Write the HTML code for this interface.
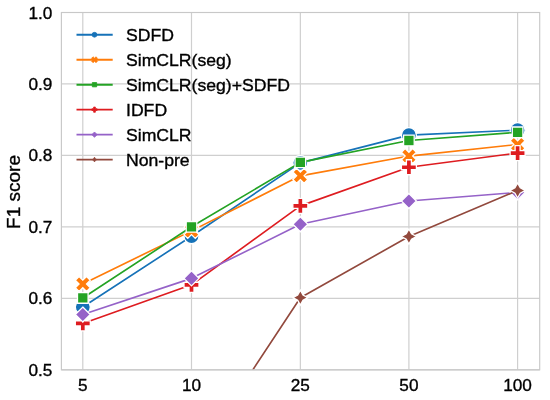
<!DOCTYPE html><html><head><meta charset="utf-8"><title>F1 score</title><style>html,body{margin:0;padding:0;background:#fff}svg{display:block}</style></head><body><svg width="550" height="400" viewBox="0 0 550 400" font-family="&quot;Liberation Sans&quot;, sans-serif" font-size="17.2" fill="#000" stroke="#000" stroke-width="0.35">
<rect width="550" height="400" fill="#fff" stroke="none"/>
<g stroke="#cfcfcf" stroke-width="1.2"><line x1="82.8" y1="12.5" x2="82.8" y2="369.8"/><line x1="191.5" y1="12.5" x2="191.5" y2="369.8"/><line x1="300.35" y1="12.5" x2="300.35" y2="369.8"/><line x1="408.9" y1="12.5" x2="408.9" y2="369.8"/><line x1="517.6" y1="12.5" x2="517.6" y2="369.8"/><line x1="61.4" y1="369.80" x2="539.7" y2="369.80"/><line x1="61.4" y1="298.34" x2="539.7" y2="298.34"/><line x1="61.4" y1="226.88" x2="539.7" y2="226.88"/><line x1="61.4" y1="155.42" x2="539.7" y2="155.42"/><line x1="61.4" y1="83.96" x2="539.7" y2="83.96"/><line x1="61.4" y1="12.50" x2="539.7" y2="12.50"/></g>
<defs><clipPath id="c"><rect x="61.4" y="12.5" width="478.30000000000007" height="357.3"/></clipPath></defs>
<g clip-path="url(#c)">
<polyline points="82.80,306.99 191.50,236.25 300.35,162.86 408.90,135.15 517.60,130.14" fill="none" stroke="#1672b8" stroke-width="1.65" stroke-linejoin="round" stroke-linecap="round"/>
<circle cx="82.80" cy="306.99" r="7.50" fill="#1672b8" stroke="#fff" stroke-width="1.3" stroke-linejoin="miter"/>
<circle cx="191.50" cy="236.25" r="7.50" fill="#1672b8" stroke="#fff" stroke-width="1.3" stroke-linejoin="miter"/>
<circle cx="300.35" cy="162.86" r="7.50" fill="#1672b8" stroke="#fff" stroke-width="1.3" stroke-linejoin="miter"/>
<circle cx="408.90" cy="135.15" r="7.50" fill="#1672b8" stroke="#fff" stroke-width="1.3" stroke-linejoin="miter"/>
<circle cx="517.60" cy="130.14" r="7.50" fill="#1672b8" stroke="#fff" stroke-width="1.3" stroke-linejoin="miter"/>
<polyline points="82.80,283.94 191.50,230.88 300.35,175.82 408.90,156.06 517.60,144.46" fill="none" stroke="#ff7c0a" stroke-width="1.65" stroke-linejoin="round" stroke-linecap="round"/>
<polygon points="79.05,276.44 82.80,280.19 86.55,276.44 90.30,280.19 86.55,283.94 90.30,287.69 86.55,291.44 82.80,287.69 79.05,291.44 75.30,287.69 79.05,283.94 75.30,280.19" fill="#ff7c0a" stroke="#fff" stroke-width="1.3" stroke-linejoin="miter"/>
<polygon points="187.75,223.38 191.50,227.13 195.25,223.38 199.00,227.13 195.25,230.88 199.00,234.63 195.25,238.38 191.50,234.63 187.75,238.38 184.00,234.63 187.75,230.88 184.00,227.13" fill="#ff7c0a" stroke="#fff" stroke-width="1.3" stroke-linejoin="miter"/>
<polygon points="296.60,168.32 300.35,172.07 304.10,168.32 307.85,172.07 304.10,175.82 307.85,179.57 304.10,183.32 300.35,179.57 296.60,183.32 292.85,179.57 296.60,175.82 292.85,172.07" fill="#ff7c0a" stroke="#fff" stroke-width="1.3" stroke-linejoin="miter"/>
<polygon points="405.15,148.56 408.90,152.31 412.65,148.56 416.40,152.31 412.65,156.06 416.40,159.81 412.65,163.56 408.90,159.81 405.15,163.56 401.40,159.81 405.15,156.06 401.40,152.31" fill="#ff7c0a" stroke="#fff" stroke-width="1.3" stroke-linejoin="miter"/>
<polygon points="513.85,136.96 517.60,140.71 521.35,136.96 525.10,140.71 521.35,144.46 525.10,148.21 521.35,151.96 517.60,148.21 513.85,151.96 510.10,148.21 513.85,144.46 510.10,140.71" fill="#ff7c0a" stroke="#fff" stroke-width="1.3" stroke-linejoin="miter"/>
<polyline points="82.80,297.97 191.50,226.80 300.35,162.36 408.90,140.52 517.60,132.29" fill="none" stroke="#24a324" stroke-width="1.65" stroke-linejoin="round" stroke-linecap="round"/>
<polygon points="77.50,292.67 88.10,292.67 88.10,303.27 77.50,303.27" fill="#24a324" stroke="#fff" stroke-width="1.3" stroke-linejoin="miter"/>
<polygon points="186.20,221.50 196.80,221.50 196.80,232.10 186.20,232.10" fill="#24a324" stroke="#fff" stroke-width="1.3" stroke-linejoin="miter"/>
<polygon points="295.05,157.06 305.65,157.06 305.65,167.66 295.05,167.66" fill="#24a324" stroke="#fff" stroke-width="1.3" stroke-linejoin="miter"/>
<polygon points="403.60,135.22 414.20,135.22 414.20,145.83 403.60,145.83" fill="#24a324" stroke="#fff" stroke-width="1.3" stroke-linejoin="miter"/>
<polygon points="512.30,126.98 522.90,126.98 522.90,137.59 512.30,137.59" fill="#24a324" stroke="#fff" stroke-width="1.3" stroke-linejoin="miter"/>
<polyline points="82.80,323.46 191.50,284.80 300.35,205.89 408.90,167.23 517.60,153.05" fill="none" stroke="#de1c20" stroke-width="1.65" stroke-linejoin="round" stroke-linecap="round"/>
<polygon points="80.30,315.96 85.30,315.96 85.30,320.96 90.30,320.96 90.30,325.96 85.30,325.96 85.30,330.96 80.30,330.96 80.30,325.96 75.30,325.96 75.30,320.96 80.30,320.96" fill="#de1c20" stroke="#fff" stroke-width="1.3" stroke-linejoin="miter"/>
<polygon points="189.00,277.30 194.00,277.30 194.00,282.30 199.00,282.30 199.00,287.30 194.00,287.30 194.00,292.30 189.00,292.30 189.00,287.30 184.00,287.30 184.00,282.30 189.00,282.30" fill="#de1c20" stroke="#fff" stroke-width="1.3" stroke-linejoin="miter"/>
<polygon points="297.85,198.39 302.85,198.39 302.85,203.39 307.85,203.39 307.85,208.39 302.85,208.39 302.85,213.39 297.85,213.39 297.85,208.39 292.85,208.39 292.85,203.39 297.85,203.39" fill="#de1c20" stroke="#fff" stroke-width="1.3" stroke-linejoin="miter"/>
<polygon points="406.40,159.73 411.40,159.73 411.40,164.73 416.40,164.73 416.40,169.73 411.40,169.73 411.40,174.73 406.40,174.73 406.40,169.73 401.40,169.73 401.40,164.73 406.40,164.73" fill="#de1c20" stroke="#fff" stroke-width="1.3" stroke-linejoin="miter"/>
<polygon points="515.10,145.55 520.10,145.55 520.10,150.55 525.10,150.55 525.10,155.55 520.10,155.55 520.10,160.55 515.10,160.55 515.10,155.55 510.10,155.55 510.10,150.55 515.10,150.55" fill="#de1c20" stroke="#fff" stroke-width="1.3" stroke-linejoin="miter"/>
<polyline points="82.80,314.58 191.50,278.35 300.35,224.29 408.90,201.02 517.60,192.43" fill="none" stroke="#9562c8" stroke-width="1.65" stroke-linejoin="round" stroke-linecap="round"/>
<polygon points="82.80,307.08 90.30,314.58 82.80,322.08 75.30,314.58" fill="#9562c8" stroke="#fff" stroke-width="1.3" stroke-linejoin="miter"/>
<polygon points="191.50,270.85 199.00,278.35 191.50,285.85 184.00,278.35" fill="#9562c8" stroke="#fff" stroke-width="1.3" stroke-linejoin="miter"/>
<polygon points="300.35,216.79 307.85,224.29 300.35,231.79 292.85,224.29" fill="#9562c8" stroke="#fff" stroke-width="1.3" stroke-linejoin="miter"/>
<polygon points="408.90,193.52 416.40,201.02 408.90,208.52 401.40,201.02" fill="#9562c8" stroke="#fff" stroke-width="1.3" stroke-linejoin="miter"/>
<polygon points="517.60,184.93 525.10,192.43 517.60,199.93 510.10,192.43" fill="#9562c8" stroke="#fff" stroke-width="1.3" stroke-linejoin="miter"/>
<polyline points="82.80,627.76 191.50,462.94 300.35,297.68 408.90,236.54 517.60,190.50" fill="none" stroke="#92493d" stroke-width="1.65" stroke-linejoin="round" stroke-linecap="round"/>
<polygon points="82.80,620.26 85.45,625.11 90.30,627.76 85.45,630.41 82.80,635.26 80.15,630.41 75.30,627.76 80.15,625.11" fill="#92493d" stroke="#fff" stroke-width="1.3" stroke-linejoin="miter"/>
<polygon points="191.50,455.44 194.15,460.29 199.00,462.94 194.15,465.59 191.50,470.44 188.85,465.59 184.00,462.94 188.85,460.29" fill="#92493d" stroke="#fff" stroke-width="1.3" stroke-linejoin="miter"/>
<polygon points="300.35,290.18 303.00,295.03 307.85,297.68 303.00,300.34 300.35,305.18 297.70,300.34 292.85,297.68 297.70,295.03" fill="#92493d" stroke="#fff" stroke-width="1.3" stroke-linejoin="miter"/>
<polygon points="408.90,229.04 411.55,233.89 416.40,236.54 411.55,239.19 408.90,244.04 406.25,239.19 401.40,236.54 406.25,233.89" fill="#92493d" stroke="#fff" stroke-width="1.3" stroke-linejoin="miter"/>
<polygon points="517.60,183.00 520.25,187.85 525.10,190.50 520.25,193.15 517.60,198.00 514.95,193.15 510.10,190.50 514.95,187.85" fill="#92493d" stroke="#fff" stroke-width="1.3" stroke-linejoin="miter"/>
</g>
<rect x="61.4" y="12.5" width="478.30000000000007" height="357.3" fill="none" stroke="#c8c8c8" stroke-width="1.15"/>
<text x="82.8" y="390.6" text-anchor="middle">5</text>
<text x="191.5" y="390.6" text-anchor="middle">10</text>
<text x="300.35" y="390.6" text-anchor="middle">25</text>
<text x="408.9" y="390.6" text-anchor="middle">50</text>
<text x="517.6" y="390.6" text-anchor="middle">100</text>
<text x="52.4" y="375.80" text-anchor="end">0.5</text>
<text x="52.4" y="304.34" text-anchor="end">0.6</text>
<text x="52.4" y="232.88" text-anchor="end">0.7</text>
<text x="52.4" y="161.42" text-anchor="end">0.8</text>
<text x="52.4" y="89.96" text-anchor="end">0.9</text>
<text x="52.4" y="18.50" text-anchor="end">1.0</text>
<text transform="translate(20,192) rotate(-90)" text-anchor="middle" font-size="19">F1 score</text>
<line x1="76.5" y1="34.75" x2="112.7" y2="34.75" stroke="#1672b8" stroke-width="1.9"/>
<circle cx="94.50" cy="34.75" r="2.40" fill="#1672b8" stroke="#1672b8" stroke-width="0.8" stroke-linejoin="miter"/>
<text transform="translate(126.0,40.75) scale(1.025,1)">SDFD</text>
<line x1="76.5" y1="59.72" x2="112.7" y2="59.72" stroke="#ff7c0a" stroke-width="1.9"/>
<polygon points="93.03,56.77 94.50,58.24 95.97,56.77 97.45,58.24 95.97,59.72 97.45,61.20 95.97,62.67 94.50,61.20 93.03,62.67 91.55,61.20 93.03,59.72 91.55,58.24" fill="#ff7c0a" stroke="#ff7c0a" stroke-width="0.8" stroke-linejoin="miter"/>
<text transform="translate(126.0,65.72) scale(1.025,1)">SimCLR(seg)</text>
<line x1="76.5" y1="84.69" x2="112.7" y2="84.69" stroke="#24a324" stroke-width="1.9"/>
<polygon points="92.34,82.53 96.66,82.53 96.66,86.85 92.34,86.85" fill="#24a324" stroke="#24a324" stroke-width="0.8" stroke-linejoin="miter"/>
<text transform="translate(126.0,90.69) scale(1.025,1)">SimCLR(seg)+SDFD</text>
<line x1="76.5" y1="109.66" x2="112.7" y2="109.66" stroke="#de1c20" stroke-width="1.9"/>
<polygon points="93.63,107.06 95.37,107.06 95.37,108.79 97.10,108.79 97.10,110.53 95.37,110.53 95.37,112.26 93.63,112.26 93.63,110.53 91.90,110.53 91.90,108.79 93.63,108.79" fill="#de1c20" stroke="#de1c20" stroke-width="0.8" stroke-linejoin="miter"/>
<text transform="translate(126.0,115.66) scale(1.025,1)">IDFD</text>
<line x1="76.5" y1="134.63" x2="112.7" y2="134.63" stroke="#9562c8" stroke-width="1.9"/>
<polygon points="94.50,131.98 97.15,134.63 94.50,137.28 91.85,134.63" fill="#9562c8" stroke="#9562c8" stroke-width="0.8" stroke-linejoin="miter"/>
<text transform="translate(126.0,140.63) scale(1.025,1)">SimCLR</text>
<line x1="76.5" y1="159.60" x2="112.7" y2="159.60" stroke="#92493d" stroke-width="1.9"/>
<polygon points="94.50,157.20 95.35,158.75 96.90,159.60 95.35,160.45 94.50,162.00 93.65,160.45 92.10,159.60 93.65,158.75" fill="#92493d" stroke="#92493d" stroke-width="0.8" stroke-linejoin="miter"/>
<text transform="translate(126.0,165.60) scale(1.025,1)">Non-pre</text>
</svg></body></html>
